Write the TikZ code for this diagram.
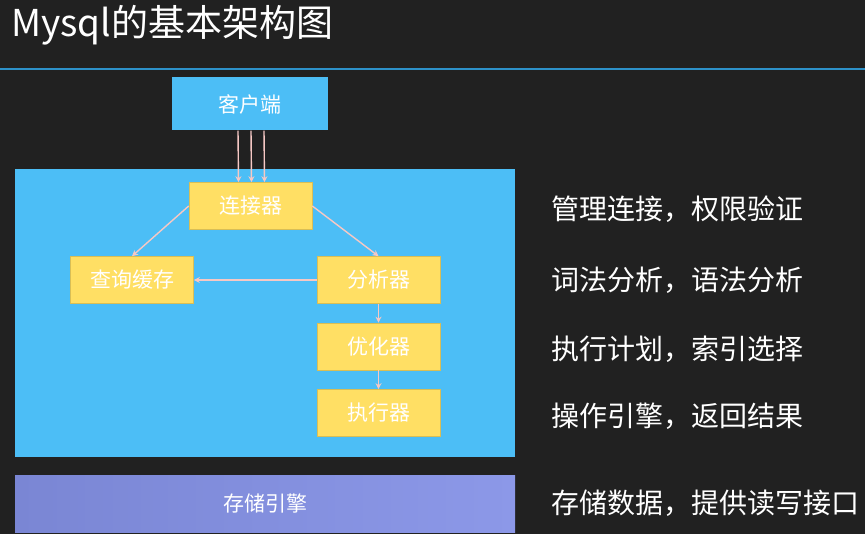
\documentclass[tikz,border=0pt]{standalone}
\usepackage{fontspec}
\setmainfont{Noto Sans CJK SC}
\usetikzlibrary{arrows.meta}
\definecolor{board}{RGB}{33,33,33}
\definecolor{rule}{RGB}{45,145,200}
\definecolor{skyblue}{RGB}{76,190,246}
\definecolor{boxyellow}{RGB}{255,223,100}
\definecolor{linkpink}{RGB}{246,200,196}
\definecolor{engleft}{RGB}{122,134,212}
\definecolor{engright}{RGB}{140,152,232}
\tikzset{
  box/.style={text=white, font=\fontsize{21}{24}\selectfont, inner sep=0pt, minimum height=47pt},
  ybox/.style={box, fill=boxyellow, draw=boxyellow!85!black, line width=0.6pt, minimum width=123pt},
  link/.style={draw=linkpink, line width=1.4pt, -{Stealth[length=6pt,width=6pt]}},
  note/.style={text=white, anchor=west, inner sep=0pt, font=\fontsize{28}{30}\selectfont}
}
\begin{document}
\begin{tikzpicture}[x=1pt,y=-1pt]
  \fill[board] (0,0) rectangle (865,534);
  \useasboundingbox (0,0) rectangle (865,534);
  \node[anchor=west, text=white, inner sep=0pt, font=\fontsize{37}{40}\selectfont] (title) at (11,25) {Mysql的基本架构图};
  \draw[rule, line width=2.6pt] (0,69) -- (865,69);

  % boxes
  \node[box, fill=skyblue, minimum width=156pt, minimum height=53pt] (client) at (250,104) {客户端};
  \node[box, fill=skyblue, minimum width=500pt, minimum height=288pt] (server) at (265,313) {};
  \node[ybox] (conn) at (250.5,206) {连接器};
  \node[ybox] (cache) at (132,280) {查询缓存};
  \node[ybox] (parser) at (378.5,280) {分析器};
  \node[ybox] (optimizer) at (378.5,346.5) {优化器};
  \node[ybox] (executor) at (378.5,413) {执行器};
  \node[box, left color=engleft, right color=engright, minimum width=500pt, minimum height=57pt] (engine) at (265,503.5) {存储引擎};

  % notes
  \node[note] (n1) at (551,209) {管理连接，权限验证};
  \node[note] (n2) at (551,280) {词法分析，语法分析};
  \node[note] (n3) at (551,349) {执行计划，索引选择};
  \node[note] (n4) at (551,416) {操作引擎，返回结果};
  \node[note] (n5) at (551,503) {存储数据，提供读写接口};

  % links
  \begin{scope}[link]
    \draw ([xshift=-12pt]client.south) -- ([xshift=-12pt]conn.north);
    \draw ([xshift=1pt]client.south) -- ([xshift=1pt]conn.north);
    \draw ([xshift=14pt]client.south) -- ([xshift=14pt]conn.north);
    \draw (conn.west) -- (cache.north);
    \draw (conn.east) -- (parser.north);
    \draw (parser.west) -- (cache.east);
    \draw (parser.south) -- (optimizer.north);
    \draw (optimizer.south) -- (executor.north);
  \end{scope}
\end{tikzpicture}
\end{document}
